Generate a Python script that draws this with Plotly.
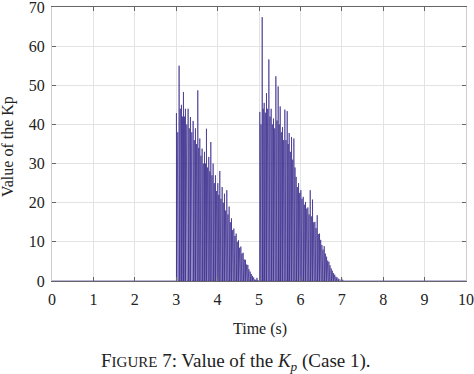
import plotly.graph_objects as go

# Burst 1 spike times (s) and peak values of Kp
t1 = [3.006, 3.070, 3.127, 3.175, 3.223, 3.288, 3.344, 3.409, 3.465, 3.521,
      3.570, 3.626, 3.683, 3.731, 3.787, 3.836, 3.892, 3.948, 4.005, 4.053,
      4.110, 4.166, 4.222, 4.279, 4.335, 4.392, 4.448, 4.504, 4.561, 4.617,
      4.674, 4.730, 4.786, 4.843, 4.899, 4.950]
p1 = [42.9, 55.0, 45.0, 48.3, 44.0, 44.0, 41.9, 40.9, 39.0, 48.7,
      36.4, 33.8, 33.0, 38.9, 31.7, 35.5, 30.0, 27.0, 25.0, 28.1,
      24.0, 22.3, 23.2, 19.0, 16.0, 13.4, 12.1, 10.4, 8.8, 7.2,
      5.4, 4.1, 2.4, 1.3, 0.4, 0.8]

# Burst 2 spike times (s) and peak values of Kp
t2 = [5.020, 5.077, 5.125, 5.181, 5.238, 5.294, 5.350, 5.407, 5.463, 5.512,
      5.568, 5.624, 5.681, 5.729, 5.786, 5.842, 5.898, 5.955, 6.011, 6.068,
      6.124, 6.181, 6.237, 6.293, 6.350, 6.406, 6.462, 6.519, 6.575, 6.632,
      6.688, 6.744, 6.801, 6.857, 6.914, 6.994]
p2 = [43.2, 67.4, 45.5, 48.0, 56.6, 44.0, 41.5, 52.3, 49.7, 44.6,
      39.3, 43.8, 43.4, 37.8, 36.8, 36.4, 26.6, 25.0, 23.2, 21.5,
      20.2, 18.8, 23.2, 20.8, 15.1, 16.8, 12.1, 9.2, 8.9, 6.2,
      4.9, 3.2, 2.0, 1.1, 0.6, 0.9]

# secondary (in-between) values within each cycle
s1 = [38.0, 44.0, 42.0, 42.0, 40.0, 39.0, 38.0, 36.0, 35.0, 34.0,
      32.0, 30.0, 30.0, 29.0, 28.0, 27.0, 25.0, 23.0, 22.0, 21.0,
      20.0, 18.0, 17.0, 15.0, 13.0, 11.5, 10.0, 8.5, 7.0, 5.5,
      4.2, 3.0, 1.8, 0.9, 0.3, 0.2]
s2 = [40.0, 44.0, 43.0, 44.0, 42.0, 40.0, 39.0, 41.0, 40.0, 38.0,
      36.0, 36.0, 35.0, 33.0, 31.0, 29.0, 24.0, 22.5, 21.0, 19.5,
      18.5, 17.0, 16.5, 15.0, 13.5, 12.0, 10.5, 8.0, 7.0, 5.2,
      4.0, 2.6, 1.6, 0.9, 0.4, 0.3]

t_start, t_end = 0.0, 10.0

x_ticks = [0, 1, 2, 3, 4, 5, 6, 7, 8, 9, 10]
y_ticks = [0, 10, 20, 30, 40, 50, 60, 70]


def build(ts, ps, ss):
    xs, ys = [], []
    for i, (t, p, s) in enumerate(zip(ts, ps, ss)):
        if i + 1 < len(ts):
            dt = ts[i + 1] - t
        else:
            dt = 0.056
        xs += [t - 0.0005, t, t + 0.003, t + 0.006,
               t + 0.5 * dt, t + 0.5 * dt + 0.003, t + 0.5 * dt + 0.006]
        ys += [0, p, 0, 0, s, 0, 0]
    return xs, ys


x1, y1 = build(t1, p1, s1)
x2, y2 = build(t2, p2, s2)
xs = [t_start] + x1 + x2 + [t_end]
ys = [0] + y1 + y2 + [0]

fig = go.Figure()
fig.add_trace(go.Scatter(x=xs, y=ys, mode="lines",
                         line=dict(color="#3b2c8e", width=0.7),
                         showlegend=False, hoverinfo="skip"))

font_family = "Liberation Serif, Times New Roman, serif"
txt = dict(size=16, family=font_family, color="#222222")
cap = dict(size=19, family=font_family, color="#222222")
fig.update_layout(
    width=474, height=374,
    margin=dict(l=52, r=8, t=7, b=93),
    paper_bgcolor="white", plot_bgcolor="white",
    font=dict(family=font_family, size=16, color="#222222"),
    xaxis=dict(range=[0, 10], tickvals=x_ticks,
               ticktext=[str(v) for v in x_ticks],
               showgrid=True, gridcolor="#e3e3e3", gridwidth=1,
               zeroline=False, showline=True, linecolor="#666666",
               linewidth=1, mirror="ticks", ticks="inside", ticklen=4,
               tickcolor="#666666", automargin=False,
               ticklabelstandoff=4, ticklabeloverflow="allow"),
    yaxis=dict(range=[0, 70], tickvals=y_ticks,
               ticktext=[str(v) for v in y_ticks],
               showgrid=True, gridcolor="#e3e3e3", gridwidth=1,
               zeroline=False, showline=True, linecolor="#cccccc",
               linewidth=1, mirror="ticks", ticks="inside", ticklen=4,
               tickcolor="#666666", automargin=False,
               ticklabelstandoff=3, ticklabeloverflow="allow"),
    annotations=[
        dict(text="Time (s)", x=0.503, xref="paper", y=-0.175, yref="paper",
             xanchor="center", yanchor="middle", showarrow=False, font=txt),
        dict(text="Value of the Kp", xref="paper", yref="paper",
             x=-0.108, y=0.49, textangle=-90, showarrow=False,
             xanchor="center", yanchor="middle", font=txt),
        dict(text="F<span style='font-size:15px'>IGURE</span> 7: Value of the <i>K<sub>p</sub></i> (Case 1).",
             x=0.445, xref="paper", y=-0.296, yref="paper",
             xanchor="center", yanchor="middle", showarrow=False, font=cap),
    ],
)

fig.write_html("out.html",
               config={"displayModeBar": False},
               post_script="document.body.style.margin='0';document.body.style.overflow='hidden';")
